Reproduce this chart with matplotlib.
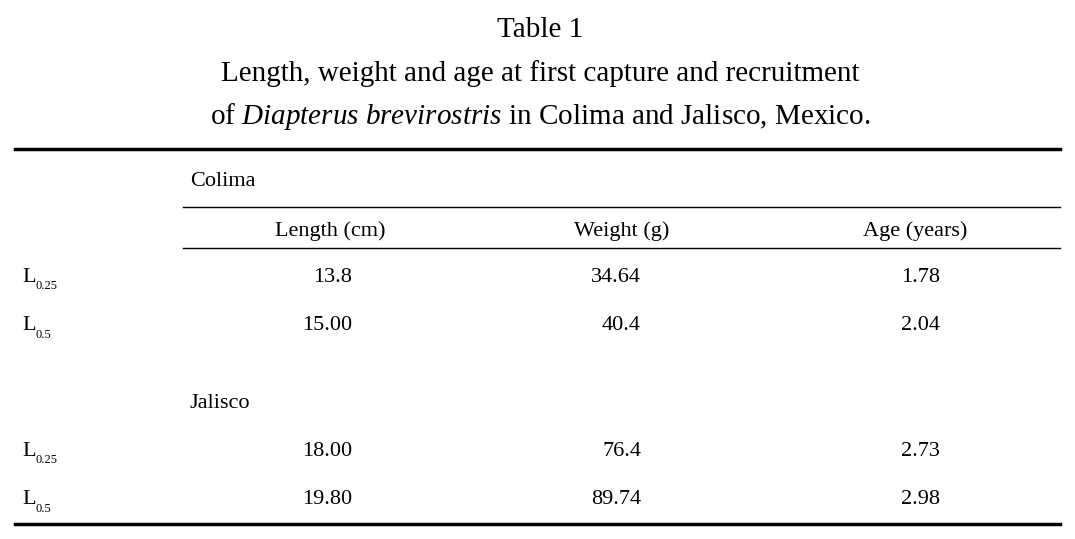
import matplotlib
matplotlib.use('Agg')
import matplotlib.pyplot as plt

plt.rcParams['font.family'] = ['Liberation Serif', 'DejaVu Serif']
plt.rcParams['mathtext.fontset'] = 'custom'
plt.rcParams['mathtext.rm'] = 'Liberation Serif'
plt.rcParams['mathtext.it'] = 'Liberation Serif:italic'

title_lines = ["Table 1",
               "Length, weight and age at first capture and recruitment",
               r"of $\mathit{Diapterus\ brevirostris}$ in Colima and Jalisco, Mexico."]
columns = ["Length (cm)", "Weight (g)", "Age (years)"]
groups = ["Colima", "Jalisco"]
row_labels = ["0.25", "0.5"]
length_cm = [["13.8", "15.00"], ["18.00", "19.80"]]
weight_g = [["34.64", "40.4"], ["76.4", "89.74"]]
age_years = [["1.78", "2.04"], ["2.73", "2.98"]]

W, H = 1075, 539
fig = plt.figure(figsize=(W / 100, H / 100), dpi=100)
ax = fig.add_axes([0, 0, 1, 1])
ax.set_xlim(0, W)
ax.set_ylim(H, 0)
ax.axis('off')

for txt, y in zip(title_lines, [30, 74, 116]):
    ax.text(540, y, txt, ha='center', va='center', fontsize=21)

ax.plot([15, 1060], [149, 149], color='black', lw=2.5)
ax.plot([183, 1060], [207, 207], color='black', lw=1)
ax.plot([183, 1060], [248, 248], color='black', lw=1)
ax.plot([15, 1060], [524, 524], color='black', lw=2.5)

fs = 16
for txt, x in zip(columns, [330, 622, 915]):
    ax.text(x, 231, txt, ha='center', va='center', fontsize=fs)

group_y = [181, 403]
row_y = [[277, 326], [451, 500]]
for g, name in enumerate(groups):
    ax.text(190, group_y[g], name, ha='left', va='center', fontsize=fs)
    for r, sub in enumerate(row_labels):
        y = row_y[g][r]
        ax.text(22, y, "L", ha='left', va='center', fontsize=fs)
        ax.text(36, y + 9, sub, ha='left', va='center', fontsize=9)
        ax.text(352, y, length_cm[g][r], ha='right', va='center', fontsize=fs)
        ax.text(641, y, weight_g[g][r], ha='right', va='center', fontsize=fs)
        ax.text(940, y, age_years[g][r], ha='right', va='center', fontsize=fs)

fig.savefig('out.png', dpi=100)
